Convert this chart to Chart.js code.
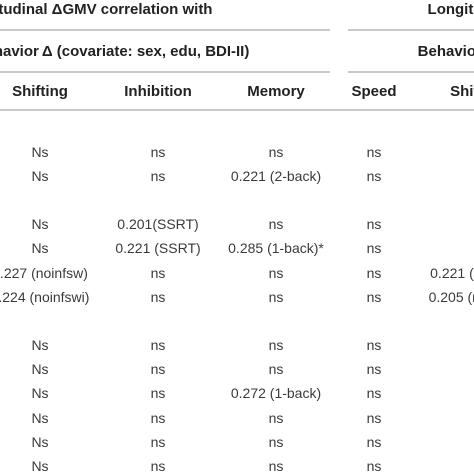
<!DOCTYPE html>
<html><head><meta charset="utf-8">
<script src="https://cdn.jsdelivr.net/npm/chart.js@4"></script>
<style>html,body{margin:0;padding:0;background:#fff;overflow:hidden}</style>
</head><body>
<canvas id="c" width="474" height="474"></canvas>
<script>
const columns = ["Shifting","Inhibition","Memory","Speed","Shifting"];
const colShifting = ["Ns","Ns","Ns","Ns","0.227 (noinfsw)","0.224 (noinfswi)","Ns","Ns","Ns","Ns","Ns","Ns"];
const colInhibition = ["ns","ns","0.201(SSRT)","0.221 (SSRT)","ns","ns","ns","ns","ns","ns","ns","ns"];
const colMemory = ["ns","0.221 (2-back)","ns","0.285 (1-back)*","ns","ns","ns","ns","0.272 (1-back)","ns","ns","ns"];
const colSpeed = ["ns","ns","ns","ns","ns","ns","ns","ns","ns","ns","ns","ns"];
const colShifting2 = ["","","","","0.221 (noinfsw)","0.205 (noinfswi)","","","","","",""];
const rowsY = [153,177,225,249,274,298,346,370,394,419,443,467];
const header1 = ["Longitudinal \u0394GMV correlation with","Longitudinal \u0394GMV correlation with"];
const header2 = ["Behavior\u2009\u0394 (covariate: sex, edu, BDI-II)","Behavior\u2009\u0394 (covariate: sex, edu, BDI-II)"];

const colX = [40,158,276,374,478];
const allCols = [colShifting,colInhibition,colMemory,colSpeed,colShifting2];
const points = [];
allCols.forEach((col,ci)=>col.forEach((t,ri)=>{ if(t) points.push({x:colX[ci],y:rowsY[ri],t}); }));
columns.forEach((t,ci)=>points.push({x:colX[ci],y:92,t,h:true}));

const tablePlugin = {
  id:'table',
  afterDatasetsDraw(chart){
    const ctx=chart.ctx, xs=chart.scales.x, ys=chart.scales.y;
    const X=v=>xs.getPixelForValue(v), Y=v=>ys.getPixelForValue(v);
    ctx.save();
    ctx.strokeStyle='#a8a8a8'; ctx.lineWidth=1.2;
    [[0,330,30],[348,474,30],[0,330,72],[348,474,72],[0,474,110]].forEach(([a,b,y])=>{
      ctx.beginPath(); ctx.moveTo(X(a),Y(y)); ctx.lineTo(X(b),Y(y)); ctx.stroke();});
    ctx.textBaseline='middle';
    ctx.fillStyle='#222'; ctx.font='bold 15px "Liberation Sans", Arial, sans-serif';
    ctx.textAlign='center';
    ctx.fillText(header1[0],X(85),Y(10)); ctx.fillText(header1[1],X(555),Y(10));
    ctx.fillText(header2[0],X(112),Y(52)); ctx.fillText(header2[1],X(555),Y(52));
    chart.data.datasets[0].data.forEach(p=>{
      ctx.font=p.h?'bold 15px "Liberation Sans", Arial, sans-serif':'14px "Liberation Sans", Arial, sans-serif';
      ctx.fillStyle=p.h?'#222':'#3a3a3a';
      ctx.fillText(p.t,X(p.x),Y(p.y));
    });
    ctx.restore();
  }
};
new Chart(document.getElementById('c'),{
  type:'scatter',
  data:{datasets:[{data:points,pointRadius:0,showLine:false}]},
  options:{responsive:false,animation:false,devicePixelRatio:2,
    layout:{padding:0},
    plugins:{legend:{display:false},tooltip:{enabled:false}},
    scales:{x:{type:'linear',min:0,max:474,display:false},
            y:{type:'linear',min:0,max:474,reverse:true,display:false}}},
  plugins:[tablePlugin]
});
</script></body></html>
